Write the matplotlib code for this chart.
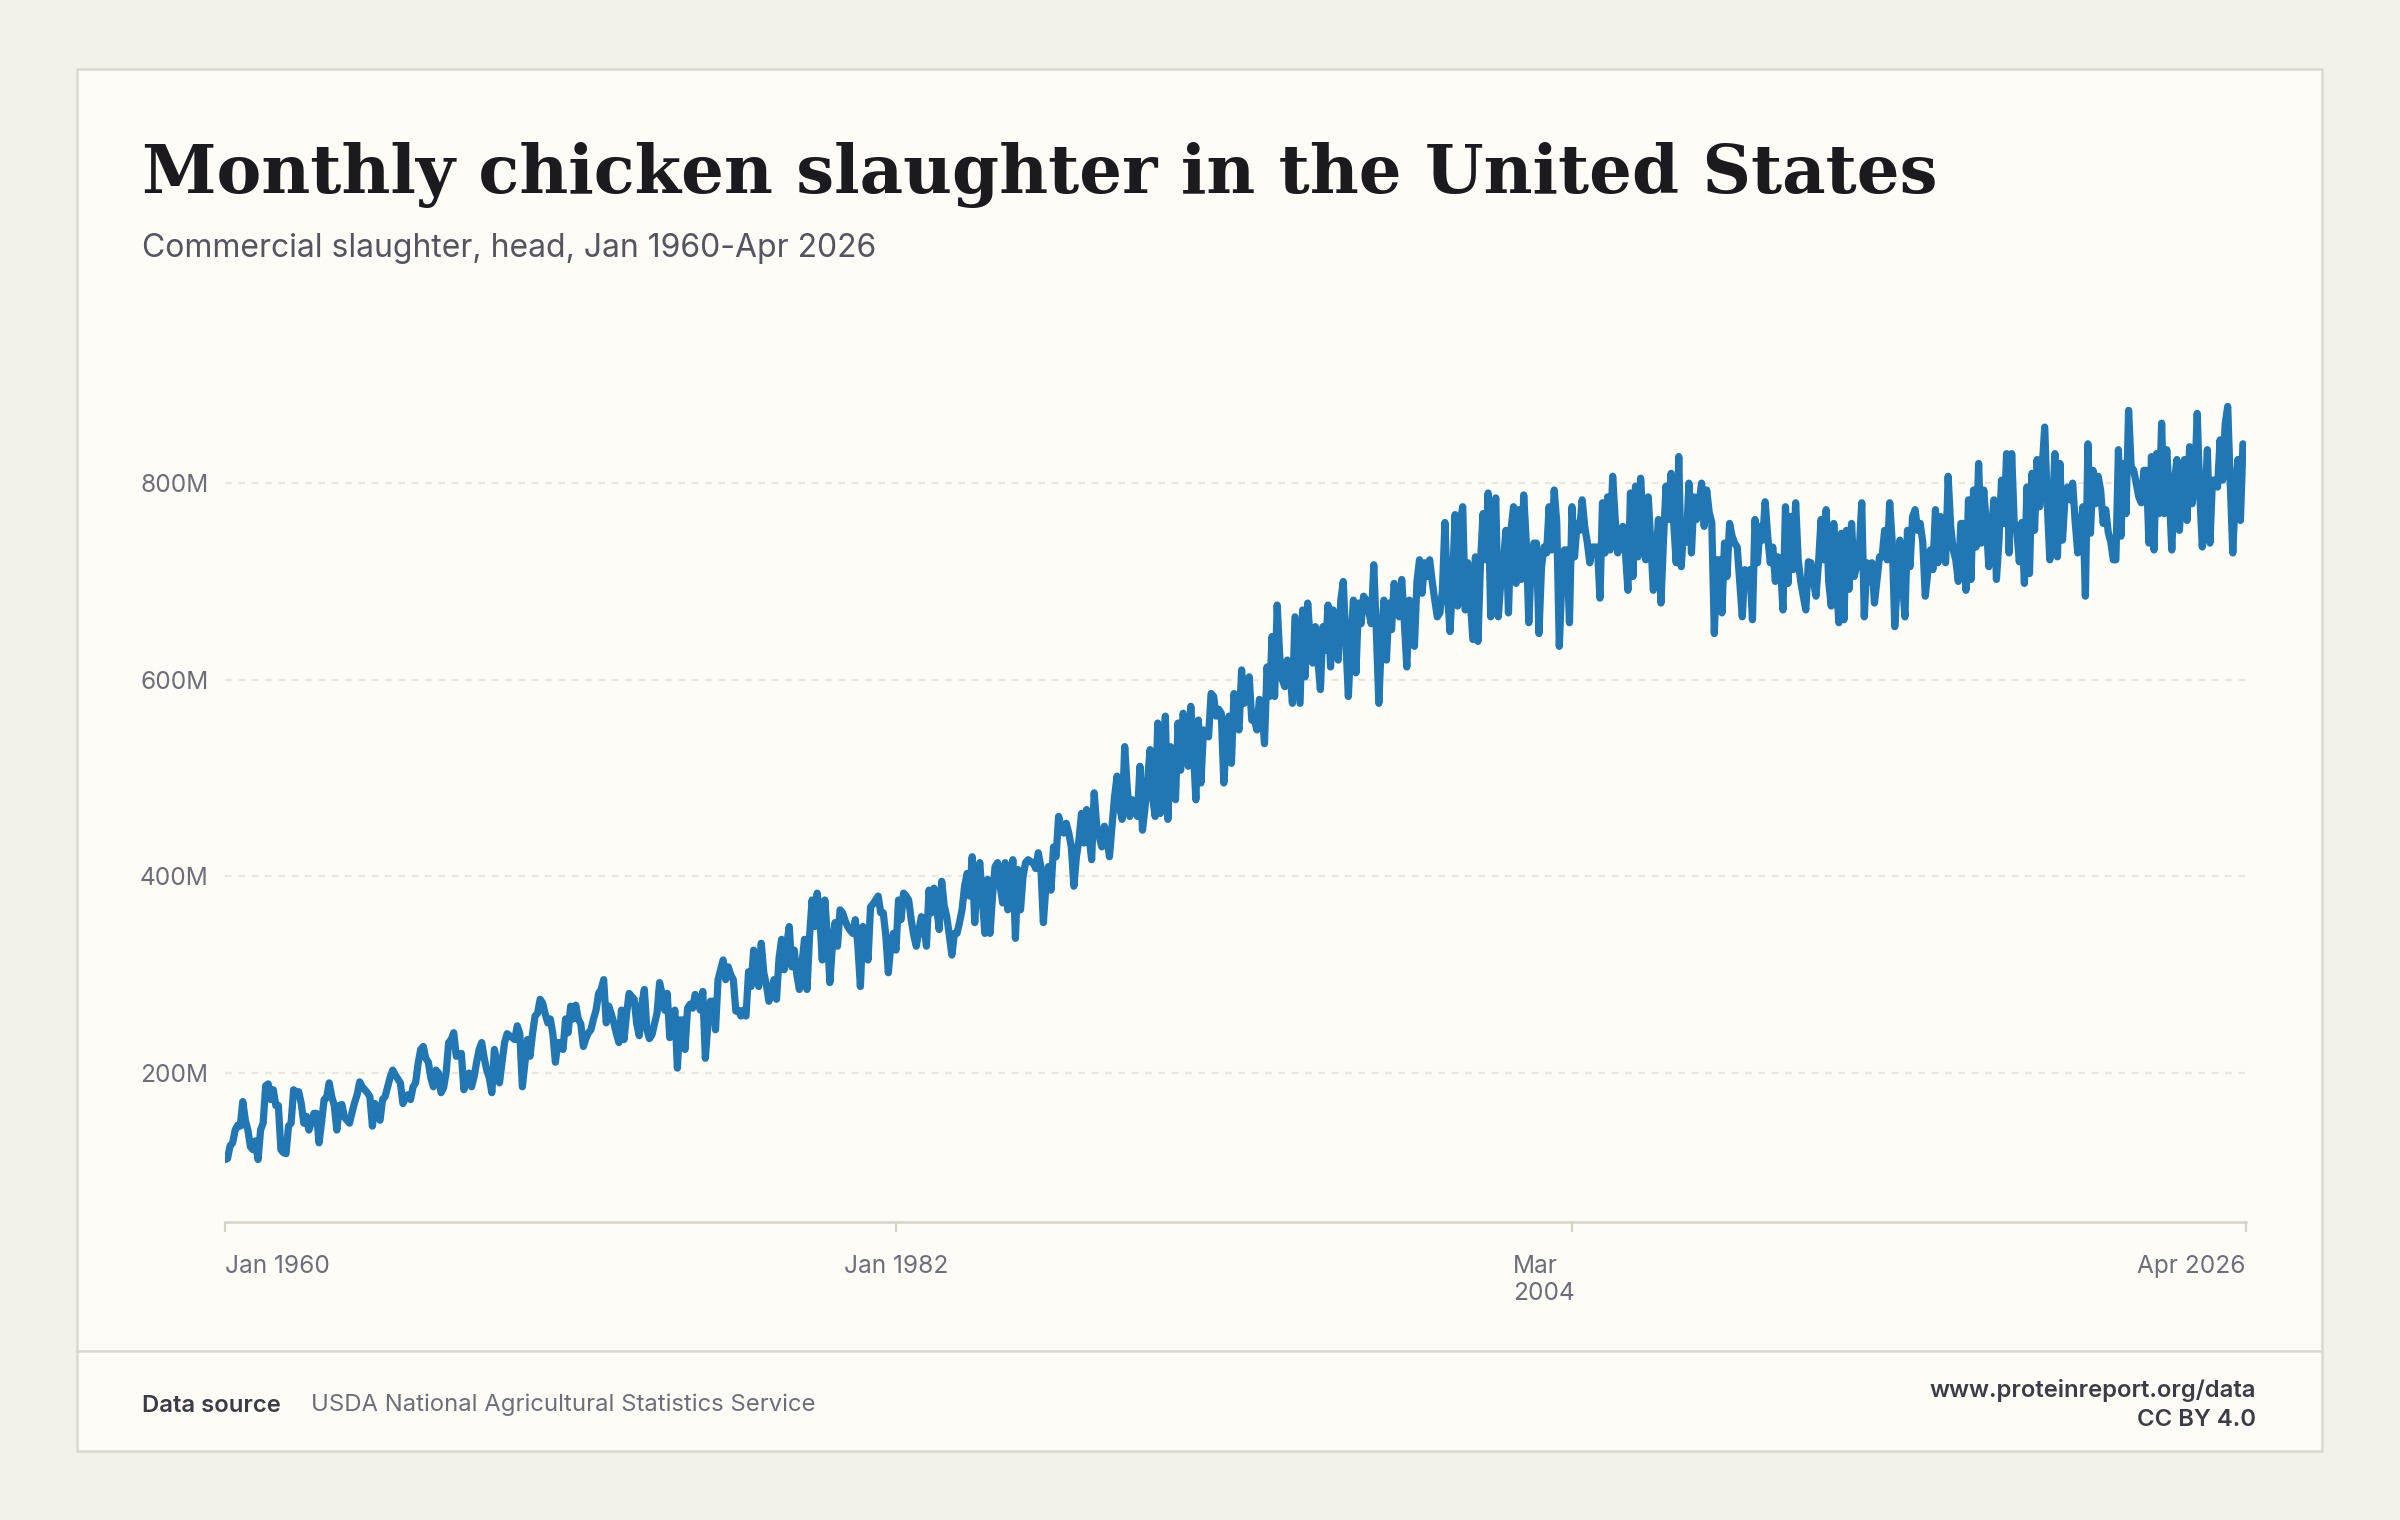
import numpy as np
import matplotlib
matplotlib.use("Agg")
import matplotlib.pyplot as plt
from matplotlib.patches import Rectangle
from matplotlib.lines import Line2D

# Monthly chicken slaughter, million head, Jan 1960 - Apr 2026
s1960s = [
    112, 113, 126, 129, 142, 147, 146, 171, 152, 142, 125, 122,
    131, 112, 142, 149, 187, 189, 173, 183, 167, 167, 122, 119,
    118, 146, 149, 183, 180, 181, 169, 149, 156, 142, 150, 159,
    159, 129, 150, 173, 175, 190, 176, 167, 142, 167, 168, 155,
    152, 149, 160, 170, 178, 191, 186, 183, 180, 176, 146, 169,
    160, 152, 173, 176, 186, 196, 203, 198, 194, 190, 169, 175,
    178, 173, 186, 190, 210, 224, 227, 215, 211, 195, 186, 203,
    200, 180, 185, 200, 231, 234, 241, 217, 218, 220, 183, 195,
    200, 186, 196, 211, 224, 231, 215, 203, 195, 180, 224, 210,
    190, 211, 231, 240, 238, 236, 234, 248, 240, 186, 210, 234,
]
s1970s = [
    217, 240, 258, 261, 275, 271, 260, 251, 255, 240, 211, 231,
    231, 224, 255, 241, 268, 255, 269, 255, 250, 227, 235, 241,
    244, 255, 264, 281, 285, 295, 251, 268, 260, 251, 240, 231,
    264, 234, 260, 281, 278, 275, 250, 238, 270, 285, 244, 235,
    239, 250, 261, 292, 280, 264, 281, 236, 250, 264, 205, 254,
    254, 224, 266, 270, 266, 280, 275, 264, 283, 215, 250, 273,
    273, 244, 295, 305, 315, 295, 308, 300, 295, 263, 264, 258,
    264, 258, 303, 288, 325, 300, 288, 332, 302, 290, 273, 280,
    295, 275, 317, 336, 305, 330, 349, 308, 325, 300, 285, 310,
    336, 285, 339, 376, 349, 383, 360, 315, 376, 340, 292, 330,
]
s1980s = [
    353, 329, 366, 363, 355, 349, 345, 342, 356, 330, 288, 349,
    340, 315, 369, 372, 376, 380, 363, 363, 340, 302, 330, 342,
    325, 376, 356, 383, 380, 376, 356, 340, 329, 345, 359, 350,
    329, 386, 363, 388, 370, 346, 395, 370, 359, 340, 320, 342,
    342, 353, 366, 390, 403, 380, 420, 353, 400, 414, 375, 342,
    397, 342, 380, 410, 414, 390, 373, 414, 366, 390, 417, 337,
    407, 366, 400, 414, 417, 415, 414, 408, 424, 410, 353, 390,
    410, 386, 430, 420, 461, 450, 444, 454, 444, 430, 390, 420,
    437, 464, 434, 468, 440, 417, 485, 451, 440, 430, 451, 440,
    420, 450, 481, 502, 470, 458, 532, 490, 461, 478, 470, 461,
]
s1990s = [
    512, 447, 470, 498, 529, 480, 461, 556, 464, 520, 563, 458,
    532, 500, 478, 556, 508, 566, 540, 512, 573, 530, 478, 559,
    495, 549, 545, 542, 586, 583, 563, 570, 566, 495, 540, 563,
    515, 586, 560, 549, 610, 576, 590, 603, 559, 560, 549, 580,
    573, 535, 613, 583, 644, 583, 676, 624, 600, 593, 620, 610,
    576, 664, 620, 576, 671, 603, 678, 640, 617, 654, 620, 590,
    654, 630, 676, 613, 671, 650, 620, 680, 700, 640, 583, 640,
    681, 607, 678, 657, 685, 681, 670, 657, 717, 650, 576, 640,
    681, 620, 678, 651, 698, 680, 664, 702, 660, 613, 681, 660,
    634, 700, 722, 688, 719, 705, 722, 700, 681, 664, 668, 690,
]
s2000s = [
    760, 688, 649, 700, 768, 675, 760, 776, 671, 719, 680, 641,
    725, 639, 719, 769, 722, 790, 664, 760, 785, 664, 700, 720,
    752, 668, 752, 776, 698, 773, 702, 788, 740, 658, 720, 739,
    739, 647, 715, 735, 729, 776, 732, 793, 760, 634, 700, 732,
    732, 658, 776, 725, 759, 752, 783, 756, 740, 719, 735, 735,
    735, 683, 780, 729, 786, 732, 807, 763, 729, 745, 756, 730,
    691, 790, 705, 797, 725, 805, 760, 722, 786, 740, 691, 720,
    763, 678, 742, 797, 763, 810, 760, 719, 827, 715, 760, 740,
    800, 729, 786, 763, 780, 800, 756, 793, 770, 760, 647, 722,
    722, 668, 739, 705, 759, 746, 739, 735, 700, 664, 712, 700,
]
s2010s = [
    712, 661, 763, 719, 756, 742, 781, 746, 719, 735, 700, 725,
    719, 671, 776, 698, 766, 712, 780, 722, 700, 685, 671, 720,
    719, 700, 685, 719, 763, 722, 773, 700, 675, 759, 700, 658,
    749, 661, 752, 692, 759, 705, 715, 730, 780, 664, 719, 700,
    719, 678, 702, 725, 725, 752, 722, 780, 740, 654, 700, 742,
    700, 664, 752, 715, 766, 773, 752, 759, 740, 685, 710, 732,
    712, 773, 719, 766, 740, 719, 807, 756, 732, 722, 700, 759,
    759, 691, 783, 702, 793, 735, 820, 739, 793, 760, 715, 750,
    783, 702, 742, 803, 759, 830, 729, 830, 760, 752, 720, 760,
    698, 796, 708, 810, 752, 824, 776, 817, 857, 780, 722, 770,
]
s2020s = [
    830, 725, 820, 742, 786, 796, 783, 800, 760, 729, 750, 776,
    685, 840, 749, 813, 779, 807, 793, 759, 773, 750, 740, 722,
    722, 834, 746, 820, 769, 874, 817, 813, 800, 786, 780, 813,
    813, 739, 827, 732, 830, 769, 861, 769, 834, 790, 732, 800,
    824, 752, 796, 824, 762, 837, 779, 800, 871, 790, 735, 780,
    834, 739, 803, 803, 796, 844, 803, 860, 878, 800, 729, 790,
    824, 762, 840, 835,
]

y_ticks = [200, 400, 600, 800]
y_labels = ["200M", "400M", "600M", "800M"]
x_ticks = [0, 264, 530, 795]
x_labels = ["Jan 1960", "Jan 1982", "Mar\n2004", "Apr 2026"]

values = np.array(s1960s + s1970s + s1980s + s1990s + s2000s + s2010s + s2020s)
months = np.arange(len(values))

W, H = 2400, 1520
BG = "#f4f1eb"
CARD = "#fdfcf7"
EDGE = "#dcd8cd"
AXIS = "#d6d2c8"
GRID = "#e9e6de"
TICK = "#6e6e7a"
DARK = "#3c3c46"
BLUE = "#2077b4"
SANS = ["Inter", "DejaVu Sans"]

fig = plt.figure(figsize=(12, 7.6), dpi=200, facecolor=BG)

def fx(px):
    return px / W

def fy(py):
    return 1 - py / H

# card + footer divider (drawn under the axes)
fig.patches.append(Rectangle((fx(76.5), fy(1451)), fx(2322) - fx(76.5), fy(69) - fy(1451),
                             transform=fig.transFigure, facecolor=CARD, edgecolor=EDGE,
                             linewidth=0.9, zorder=-5))
fig.lines.append(Line2D([fx(77), fx(2321)], [fy(1351), fy(1351)], transform=fig.transFigure,
                        color=EDGE, linewidth=0.9, zorder=-4))

ax = fig.add_axes([fx(225), fy(1221.5), fx(2245.5) - fx(225), fy(344.5) - fy(1221.5)])
ax.set_facecolor("none")

ax.plot(months, values, color=BLUE, lw=2.6, solid_joinstyle="round", solid_capstyle="round", zorder=3)

ax.set_xlim(0, len(values) - 1)
ax.set_ylim(49, 941)

for v in y_ticks:
    ax.axhline(v, color=GRID, lw=0.8, dashes=(3, 3), zorder=1)

for s in ["top", "right", "left"]:
    ax.spines[s].set_visible(False)
ax.spines["bottom"].set_color(AXIS)
ax.spines["bottom"].set_linewidth(0.9)

ax.set_yticks(y_ticks)
ax.set_yticklabels(y_labels)
ax.tick_params(axis="y", length=0, pad=6, labelsize=8.8, labelcolor=TICK)
for lab in ax.get_yticklabels():
    lab.set_family(SANS)

ax.set_xticks(x_ticks)
ax.set_xticklabels([])
ax.tick_params(axis="x", length=3.6, width=0.8, color=AXIS)

aligns = ["left", "center", "right", "right"]
offsets = [0, 0, 1, 0]
for xt, lab, ha, off in zip(x_ticks, x_labels, aligns, offsets):
    ax.annotate(lab, xy=(xt, 0), xycoords=("data", "axes fraction"),
                xytext=(off, -12.2), textcoords="offset points",
                ha=ha, va="top", ma="left", fontsize=8.8, color=TICK, family=SANS)

# header
fig.text(fx(142), fy(193), "Monthly chicken slaughter in the United States",
         family=["DejaVu Serif"], fontsize=24.2, fontweight="bold", color="#1b1b1f", va="baseline")
fig.text(fx(142), fy(256.5), "Commercial slaughter, head, Jan 1960-Apr 2026",
         family=SANS, fontsize=11.5, color="#55555f", va="baseline")

# footer
fig.text(fx(142), fy(1411.5), "Data source", family=SANS, fontsize=8.6,
         fontweight="semibold", color=DARK, va="baseline")
fig.text(fx(311), fy(1411.5), "USDA National Agricultural Statistics Service", family=SANS,
         fontsize=8.6, color=TICK, va="baseline")
fig.text(fx(2256), fy(1396.5), "www.proteinreport.org/data", family=SANS, fontsize=8.6,
         fontweight="semibold", color=DARK, va="baseline", ha="right")
fig.text(fx(2256), fy(1426), "CC BY 4.0", family=SANS, fontsize=8.6,
         fontweight="semibold", color=DARK, va="baseline", ha="right")

fig.savefig("out.png", dpi=200, facecolor=BG)
